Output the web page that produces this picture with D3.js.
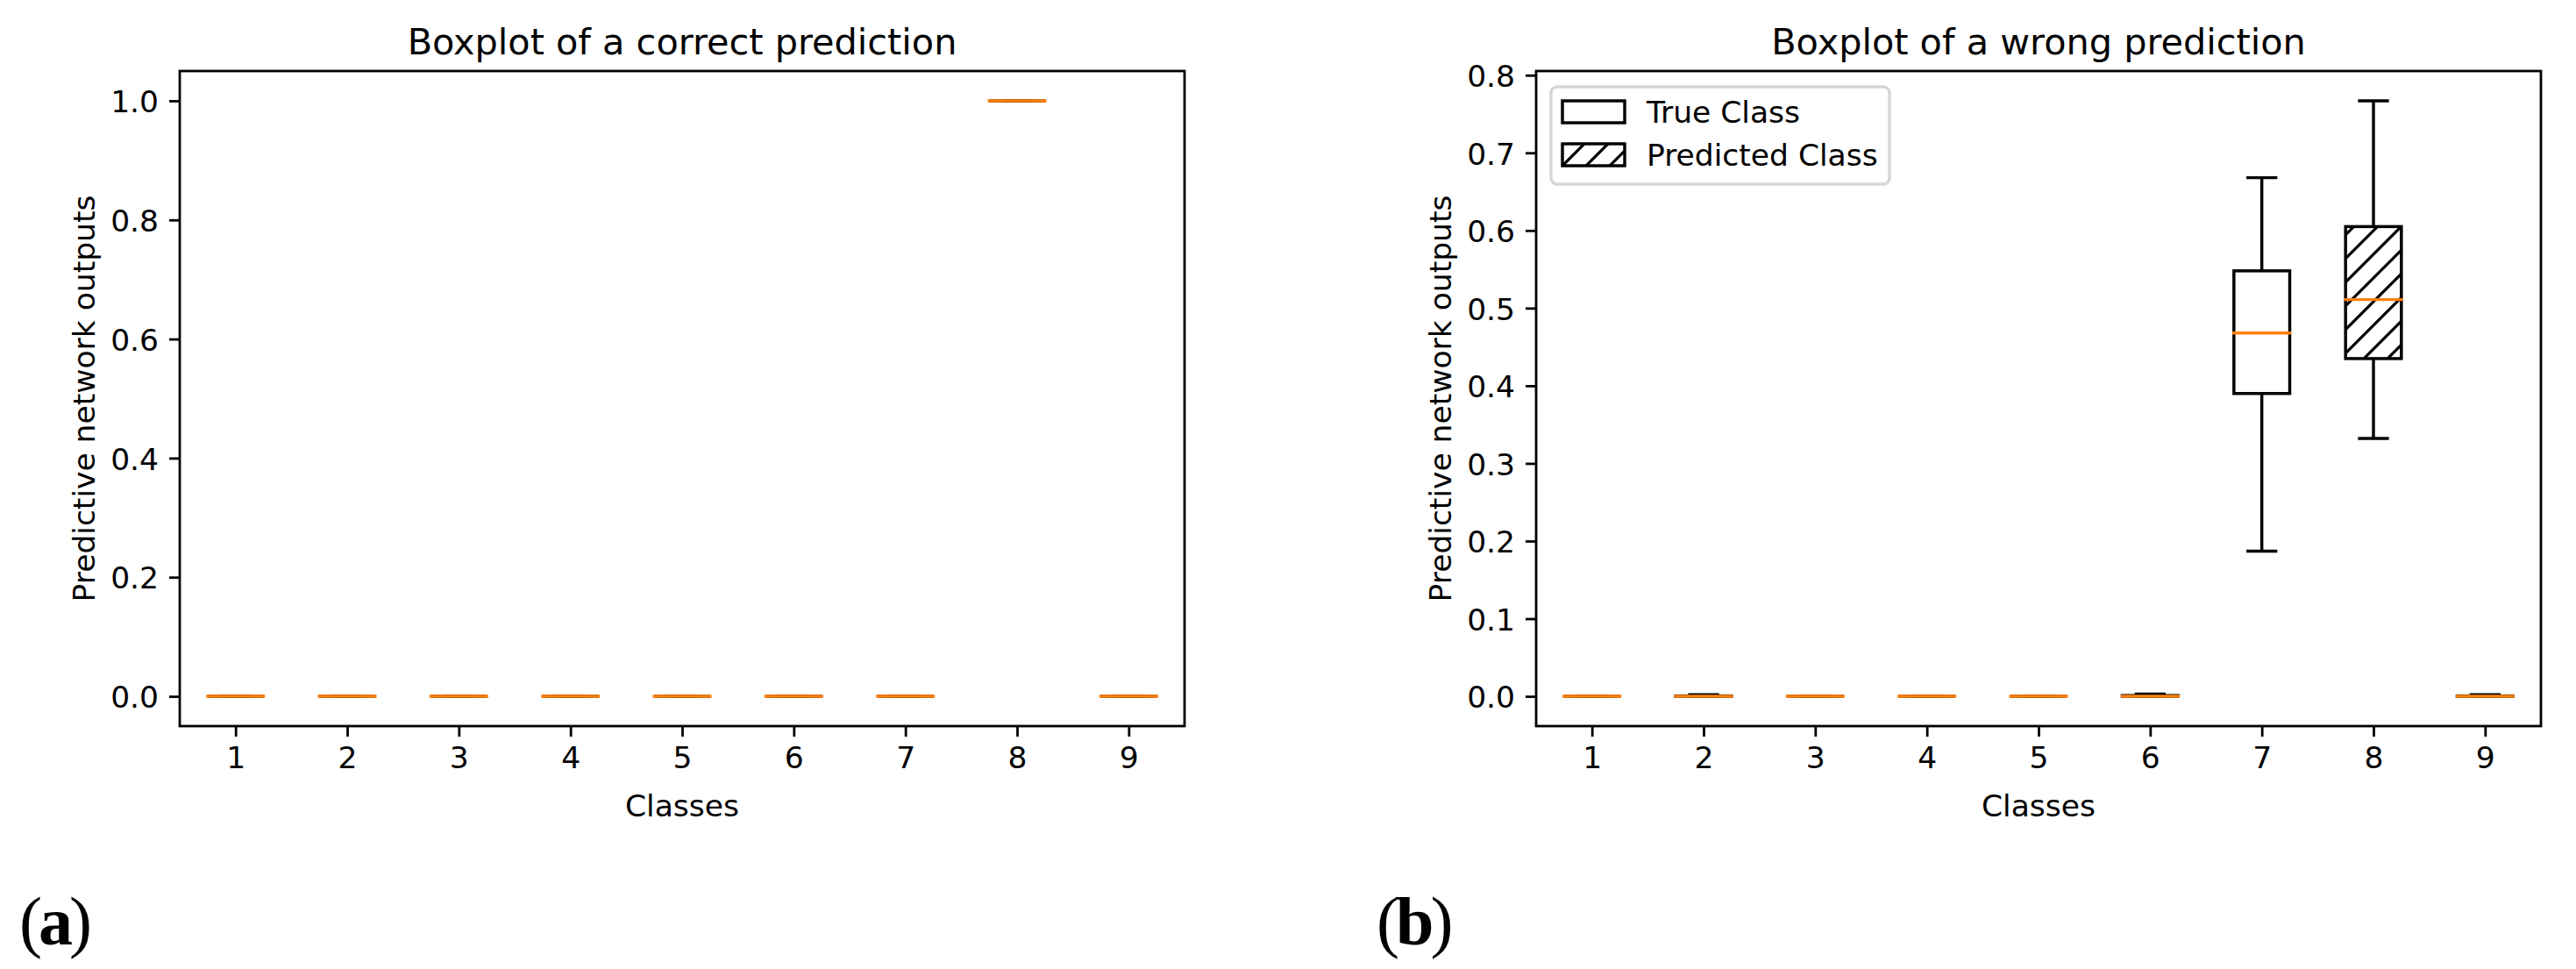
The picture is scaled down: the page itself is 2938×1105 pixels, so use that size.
<!DOCTYPE html>
<html>
<head>
<meta charset="utf-8">
<script src="https://cdn.jsdelivr.net/npm/d3@7"></script>
<style>
  body { margin: 0; background: #fff; }
  svg text { font-family: "DejaVu Sans", sans-serif; fill: #000; }
</style>
</head>
<body>
<svg id="fig" width="2938" height="1105"></svg>
<script>
var classes = [1, 2, 3, 4, 5, 6, 7, 8, 9];

// [low whisker, q1, median, q3, high whisker] for each class
var correctStats = [
  [0, 0, 0, 0, 0],
  [0, 0, 0, 0, 0],
  [0, 0, 0, 0, 0],
  [0, 0, 0, 0, 0],
  [0, 0, 0, 0, 0],
  [0, 0, 0, 0, 0],
  [0, 0, 0, 0, 0],
  [1, 1, 1, 1, 1],
  [0, 0, 0, 0, 0]
];
var wrongStats = [
  [0, 0, 0, 0, 0],
  [0, 0, 0, 0.0005, 0.002],
  [0, 0, 0, 0, 0],
  [0, 0, 0, 0, 0],
  [0, 0, 0, 0, 0],
  [0, 0, 0, 0.001, 0.003],
  [0.187, 0.390, 0.468, 0.548, 0.668],
  [0.332, 0.435, 0.511, 0.605, 0.767],
  [0, 0, 0, 0.0005, 0.002]
];
var trueClass = 7;
var predictedClass = 8;

var correctTicks = [0, 0.2, 0.4, 0.6, 0.8, 1.0];
var wrongTicks = [0, 0.1, 0.2, 0.3, 0.4, 0.5, 0.6, 0.7, 0.8];
var legendLabels = ["True Class", "Predicted Class"];

var FONT = 34.5;
var LW = 3.45;
var ORANGE = "#ff7f0e";

var svg = d3.select("#fig");

// "//" hatch
var defs = svg.append("defs");
var pat = defs.append("pattern")
  .attr("id", "hatch")
  .attr("patternUnits", "userSpaceOnUse")
  .attr("width", 27).attr("height", 27);
pat.append("rect").attr("width", 27).attr("height", 27).attr("fill", "#fff");
pat.append("path")
  .attr("d", "M-7,7L7,-7M0,27L27,0M20,34L34,20")
  .attr("stroke", "#000").attr("stroke-width", 3.2);

function drawPanel(p) {
  var x = d3.scaleLinear().domain([0.5, 9.5]).range([p.left, p.right]);
  var y = d3.scaleLinear().domain(p.yDomain).range([p.bottom, p.top]);
  var g = svg.append("g");

  // boxes
  var box = g.selectAll("g.box").data(p.stats).enter().append("g").attr("class", "box");
  box.each(function(s, i) {
    var c = classes[i];
    var b = d3.select(this);
    var hatched = p.hatchClass === c;
    if (y(s[1]) - y(s[3]) > 0) {
      b.append("rect")
        .attr("x", x(c - 0.25))
        .attr("y", y(s[3]))
        .attr("width", x(c + 0.25) - x(c - 0.25))
        .attr("height", y(s[1]) - y(s[3]))
        .attr("fill", hatched ? "url(#hatch)" : "#fff")
        .attr("stroke", "#000").attr("stroke-width", LW);
    } else {
      b.append("line")
        .attr("x1", x(c - 0.25)).attr("x2", x(c + 0.25))
        .attr("y1", y(s[3])).attr("y2", y(s[3]))
        .attr("stroke", "#000").attr("stroke-width", LW);
    }
    // whiskers
    [[s[3], s[4]], [s[1], s[0]]].forEach(function(w) {
      b.append("line")
        .attr("x1", x(c)).attr("x2", x(c))
        .attr("y1", y(w[0])).attr("y2", y(w[1]))
        .attr("stroke", "#000").attr("stroke-width", LW);
    });
    // caps
    [s[0], s[4]].forEach(function(v) {
      b.append("line")
        .attr("x1", x(c - 0.125)).attr("x2", x(c + 0.125))
        .attr("y1", y(v)).attr("y2", y(v))
        .attr("stroke", "#000").attr("stroke-width", LW)
        .attr("stroke-linecap", "square");
    });
    // median
    b.append("line")
      .attr("x1", x(c - 0.25)).attr("x2", x(c + 0.25))
      .attr("y1", y(s[2])).attr("y2", y(s[2]))
      .attr("stroke", ORANGE).attr("stroke-width", LW)
      .attr("stroke-linecap", "square");
  });

  // axes
  var xAxis = g.append("g")
    .attr("transform", "translate(0," + p.bottom + ")")
    .call(d3.axisBottom(x).tickValues(classes).tickSize(12).tickPadding(12).tickFormat(d3.format("d")));
  var yAxis = g.append("g")
    .attr("transform", "translate(" + p.left + ",0)")
    .call(d3.axisLeft(y).tickValues(p.ticks).tickSize(12).tickPadding(12).tickFormat(d3.format(".1f")));
  [xAxis, yAxis].forEach(function(a) {
    a.attr("font-family", null).attr("font-size", null);
    a.select(".domain").remove();
    a.selectAll(".tick line").attr("stroke", "#000").attr("stroke-width", 2.8);
    a.selectAll(".tick text").attr("fill", "#000").style("font-size", FONT + "px");
  });
  yAxis.selectAll(".tick text").attr("dy", "0.37em");

  // frame
  g.append("rect")
    .attr("x", p.left).attr("y", p.top)
    .attr("width", p.right - p.left).attr("height", p.bottom - p.top)
    .attr("fill", "none").attr("stroke", "#000").attr("stroke-width", 2.8);

  var cx = (p.left + p.right) / 2;
  g.append("text")
    .attr("x", cx).attr("y", 62)
    .attr("text-anchor", "middle")
    .style("font-size", "41.4px")
    .text(p.title);
  g.append("text")
    .attr("x", cx).attr("y", 931)
    .attr("text-anchor", "middle")
    .style("font-size", FONT + "px")
    .text("Classes");
  g.append("text")
    .attr("transform", "translate(" + p.ylabelX + "," + ((p.top + p.bottom) / 2) + ") rotate(-90)")
    .attr("text-anchor", "middle")
    .style("font-size", FONT + "px")
    .text("Predictive network outputs");

  // panel label
  var lab = svg.append("text")
    .attr("x", p.labelX).attr("y", 1077)
    .style("font-family", "'Liberation Serif', serif")
    .style("font-size", "78px")
    .attr("letter-spacing", -4);
  lab.append("tspan").text("(");
  lab.append("tspan").attr("font-weight", "bold").text(p.label);
  lab.append("tspan").text(")");

  return {x: x, y: y};
}

drawPanel({
  left: 205, right: 1351, top: 81, bottom: 828,
  yDomain: [-0.05, 1.05], ticks: correctTicks, stats: correctStats,
  title: "Boxplot of a correct prediction", ylabelX: 108,
  hatchClass: null, label: "a", labelX: 22
});

drawPanel({
  left: 1752, right: 2898, top: 81, bottom: 828,
  yDomain: [-0.03835, 0.80535], ticks: wrongTicks, stats: wrongStats,
  title: "Boxplot of a wrong prediction", ylabelX: 1655,
  hatchClass: predictedClass, label: "b", labelX: 1570
});

// legend
var leg = svg.append("g");
leg.append("rect")
  .attr("x", 1769).attr("y", 99).attr("width", 386).attr("height", 111)
  .attr("rx", 7).attr("fill", "#fff")
  .attr("stroke", "#d6d6d6").attr("stroke-width", LW);
legendLabels.forEach(function(t, i) {
  var yy = 115 + i * 49;
  leg.append("rect")
    .attr("x", 1782).attr("y", yy).attr("width", 71).attr("height", 25)
    .attr("fill", i === 0 ? "#fff" : "url(#hatch)")
    .attr("stroke", "#000").attr("stroke-width", LW);
  leg.append("text")
    .attr("x", 1878).attr("y", yy + 25)
    .style("font-size", FONT + "px")
    .text(t);
});
</script>
</body>
</html>
